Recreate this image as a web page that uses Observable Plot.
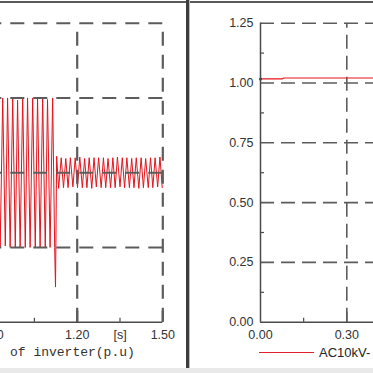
<!DOCTYPE html>
<html><head><meta charset="utf-8">
<script src="https://cdn.jsdelivr.net/npm/d3@7"></script>
<script src="https://cdn.jsdelivr.net/npm/@observablehq/plot@0.6"></script>
<style>
html,body{margin:0;padding:0;background:#fff;}
#fig{position:relative;width:373px;height:373px;overflow:hidden;background:#fff;font-family:Arial,"Liberation Sans",sans-serif;}
.panel{position:absolute;top:0;overflow:hidden;}
</style></head><body>
<div id="fig">
  <div id="left" class="panel" style="left:0;width:186px;height:346px"></div>
  <div id="right" class="panel" style="left:189px;width:184px;height:346px"></div>
  <div style="position:absolute;left:0;top:1px;width:373px;height:2px;background:#5a5a5a"></div>
  <div style="position:absolute;left:186px;top:0;width:3px;height:373px;background:#3c3c3c"></div>
  <div style="position:absolute;left:189px;top:0;width:1px;height:373px;background:#bbb"></div>
  <div style="position:absolute;left:0;top:368px;width:373px;height:5px;background:#e9e9e9"></div>
  <div id="ltitle" style="position:absolute;left:10px;top:345px;font:13px 'Liberation Mono',monospace;line-height:16px;color:#333;white-space:pre"></div>
  <div style="position:absolute;left:259px;top:352px;width:55px;height:1px;background:#e0202a"></div>
  <div id="legtext" style="position:absolute;left:319px;top:345px;font:13px Arial,'Liberation Sans',sans-serif;line-height:16px;color:#222;white-space:pre"></div>
</div>
<script>
// ---- data ----
const leftTitle = "of inverter(p.u)";
const legendLabel = "AC10kV-";

// left panel: inverter voltage (p.u) vs time [s]
const leftT = [0.900,0.904,0.913,0.922,0.930,0.939,0.948,0.956,0.965,0.974,0.983,0.991,1.000,1.009,1.018,1.026,1.035,1.044,1.053,1.061,1.070,1.079,1.088,1.096,1.105,1.114,1.121,1.124,1.128,
  1.135,1.144,1.152,1.160,1.168,1.176,1.185,1.193,1.201,1.209,1.218,1.226,1.234,1.242,1.251,1.259,1.267,1.275,1.284,1.292,1.300,1.308,1.317,1.325,1.333,1.341,1.350,1.358,1.366,1.374,1.383,1.391,1.399,1.407,1.416,1.424,1.432,1.440,1.449,1.457,1.465,1.473,1.482,1.490,1.498];
const leftV = [0.0,1.0,-1.0,1.0,-1.0,1.0,-0.98,1.0,-1.0,1.0,-1.0,0.97,-1.0,1.0,-1.0,1.0,-1.0,1.0,-1.0,1.0,-1.0,1.0,-1.0,0.98,-1.0,1.0,-1.0,-1.53,0.22,
  -0.21,0.2,-0.2,0.19,-0.2,0.2,-0.19,0.2,-0.2,0.21,-0.2,0.19,-0.2,0.2,-0.21,0.2,-0.19,0.2,-0.2,0.2,-0.2,0.19,-0.2,0.2,-0.2,0.21,-0.19,0.2,-0.2,0.2,-0.2,0.19,-0.2,0.2,-0.21,0.2,-0.2,0.19,-0.2,0.2,-0.2,0.2,-0.19,0.21,-0.2,0.2];
const leftGridX = [0.3,0.6,0.9,1.2,1.5];
const leftGridY = [-1,0,1,2];
const leftMinorX = [0.15,0.45,0.75,1.05,1.35];
const leftTickVals = [0.9,1.2,1.35,1.5];
const leftTickLabels = ["0.90","1.20","[s]","1.50"];

// right panel: AC10kV bus voltage (p.u)
const rightT = [0.0,0.075,0.08,1.5];
const rightV = [1.017,1.017,1.021,1.021];
const rightGridX = [0.3,0.6,0.9,1.2,1.5];
const rightGridY = [0.25,0.5,0.75,1.0,1.25];
const rightMinorX = [0.15,0.45,0.75,1.05,1.35];
const rightMinorY = [0.125,0.375,0.625,0.875,1.125];
const rightXTicks = [0,0.3];
const rightXLabels = ["0.00","0.30"];
const rightYTicks = [0,0.25,0.5,0.75,1.0,1.25];
const rightYLabels = ["0.00","0.25","0.50","0.75","1.00","1.25"];

// ---- build ----
const red = "#e4141c";
const gridCol = "#5c5c5c";
const axisCol = "#4a4a4a";
const font = "Arial, 'Liberation Sans', sans-serif";

const leftData = leftT.map((t,i)=>({t, v:leftV[i]}));
const lx0 = 162.3 - 428, lx1 = 162.3;
const ly0 = 321.7, ly1 = 22.7;
const lpu = (ly0-ly1)/4; // px per unit
const left = Plot.plot({
  width:186, height:346, margin:0,
  x:{domain:[0,1.5], range:[lx0,lx1], axis:null},
  y:{domain:[-2,2], range:[ly0,ly1], axis:null},
  style:{background:"transparent", fontFamily:font, fontSize:"12.5px", overflow:"hidden"},
  marks:[
    Plot.line(leftData,{x:"t",y:"v",stroke:red,strokeWidth:1}),
    Plot.ruleY(leftGridY,{y:d=>d,x1:()=>0,x2:()=>1.5,stroke:gridCol,strokeWidth:2,strokeDasharray:"14,9"}),
    Plot.ruleX(leftGridX,{x:d=>d,y1:()=>-2,y2:()=>2,stroke:gridCol,strokeWidth:2.2,strokeDasharray:"14,9"}),
    Plot.ruleX(leftGridX,{x:d=>d,y1:()=>-2,y2:()=>-2+11/lpu,stroke:gridCol,strokeWidth:2.2}),
    Plot.ruleX(leftMinorX,{x:d=>d,y1:()=>-2,y2:()=>-2+4/lpu,stroke:axisCol,strokeWidth:1.2}),
    Plot.ruleY([-2],{y:d=>d,x1:()=>0,x2:()=>1.5,stroke:axisCol,strokeWidth:1.5}),
    Plot.text(leftTickVals,{x:d=>d,y:()=>-2,dy:12.5,text:(d,i)=>leftTickLabels[i],fill:"#333",fontSize:12.5})
  ]
});
document.getElementById("left").appendChild(left);

const rightData = rightT.map((t,i)=>({t, v:rightV[i]}));
const off = 189;
const rx0 = 260-off, rx1 = 260-off + 5*86.3;
const ry0 = 321.7, ry1 = 22.7;
const rpx = 86.3/0.3, rpu = (ry0-ry1)/1.25;
const right = Plot.plot({
  width:184, height:346, margin:0,
  x:{domain:[0,1.5], range:[rx0,rx1], axis:null},
  y:{domain:[0,1.25], range:[ry0,ry1], axis:null},
  style:{background:"transparent", fontFamily:font, fontSize:"12.5px", overflow:"hidden"},
  marks:[
    Plot.ruleY(rightGridY,{y:d=>d,x1:()=>0,x2:()=>1.5,stroke:gridCol,strokeWidth:1.6,strokeDasharray:"14,7"}),
    Plot.ruleX(rightGridX,{x:d=>d,y1:()=>0,y2:()=>1.25,stroke:gridCol,strokeWidth:1.6,strokeDasharray:"14,7"}),
    Plot.ruleX(rightGridX,{x:d=>d,y1:()=>0,y2:()=>10/rpu,stroke:gridCol,strokeWidth:1.6}),
    Plot.ruleX(rightMinorX,{x:d=>d,y1:()=>0,y2:()=>4/rpu,stroke:axisCol,strokeWidth:1.2}),
    Plot.ruleY(rightMinorY,{y:d=>d,x1:()=>0,x2:()=>4/rpx,stroke:axisCol,strokeWidth:1.2}),
    Plot.line(rightData,{x:"t",y:"v",stroke:red,strokeWidth:1.2}),
    Plot.dot(rightData.slice(0,1),{x:"t",y:"v",r:1.5,fill:"#a0101a",stroke:null}),
    Plot.ruleX([0],{x:d=>d,y1:()=>0,y2:()=>1.25,stroke:axisCol,strokeWidth:1.5}),
    Plot.ruleY([0],{y:d=>d,x1:()=>0,x2:()=>1.5,stroke:axisCol,strokeWidth:1.5}),
    Plot.text(rightYTicks,{x:()=>0,y:d=>d,dx:-7,textAnchor:"end",text:(d,i)=>rightYLabels[i],fill:"#333",fontSize:12.5}),
    Plot.text(rightXTicks,{x:d=>d,y:()=>0,dy:12.5,text:(d,i)=>rightXLabels[i],fill:"#333",fontSize:12.5})
  ]
});
document.getElementById("right").appendChild(right);

document.getElementById("ltitle").textContent = leftTitle;
document.getElementById("legtext").textContent = legendLabel;
</script>
</body></html>
